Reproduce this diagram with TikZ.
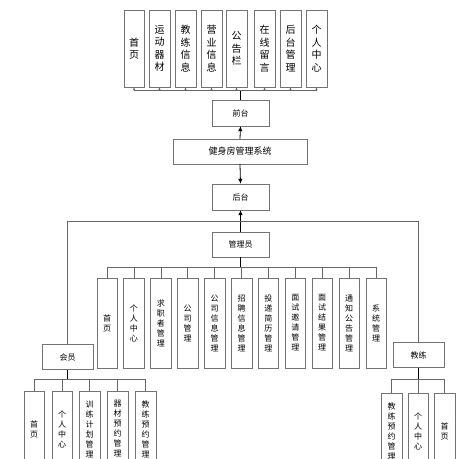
\documentclass[tikz,border=0pt]{standalone}
\usepackage{fontspec}
\setmainfont{Noto Sans CJK SC}
\usetikzlibrary{arrows.meta,positioning,calc}

\tikzset{
  box/.style={draw=black!55, rectangle, inner sep=0pt, align=center, minimum width=51pt, minimum height=25pt, font=\fontsize{8}{10}\selectfont},
  tallbox/.style={draw=black!55, rectangle, inner sep=0pt, align=center, minimum width=20.5pt, font=\fontsize{8}{10}\selectfont},
  topbox/.style={tallbox, minimum height=77pt, font=\fontsize{10}{12.5}\selectfont},
  link/.style={draw=black!60, line width=0.6pt},
  trunk/.style={draw=black, line width=0.8pt},
  bigarrow/.style={trunk, -{Latex[length=5pt,width=4.5pt]}},
  smallarrow/.style={link, -{Latex[length=3pt,width=2.5pt]}},
}

\begin{document}
\begin{tikzpicture}[x=1pt,y=-1pt]
    \useasboundingbox (0,0) rectangle (474,458);
    \clip (0,0) rectangle (474,458);

    % centre column
    \node[box, minimum width=57pt, minimum height=26pt] (front) at (240.5,113) {前台};
    \node[box, minimum width=134pt, font=\fontsize{9}{11}\selectfont] (system) at (240,151.5) {健身房管理系统};
    \node[box, minimum width=57pt, minimum height=26pt] (back) at (240.5,197) {后台};
    \node[box, minimum width=57pt] (admin) at (240.5,244.5) {管理员};
    \node[box] (member) at (67.5,357) {会员};
    \node[box] (coach) at (418.5,355) {教练};

    % front pages
    \foreach \x/\t [count=\i] in {134/{首\\页}, 159.5/{运\\动\\器\\材}, 185.5/{教\\练\\信\\息}, 211.5/{营\\业\\信\\息},
                                  236.5/{公\\告\\栏}, 264.5/{在\\线\\留\\言}, 290.5/{后\\台\\管\\理}, 316.5/{个\\人\\中\\心}}
        \node[topbox] (page\i) at (\x,48.5) {\t};

    % admin modules
    \foreach \t [count=\i] in {{首\\页}, {个\\人\\中\\心}, {求\\职\\者\\管\\理}, {公\\司\\管\\理}, {公\\司\\信\\息\\管\\理},
                               {招\\聘\\信\\息\\管\\理}, {投\\递\\简\\历\\管\\理}, {面\\试\\邀\\请\\管\\理},
                               {面\\试\\结\\果\\管\\理}, {通\\知\\公\\告\\管\\理}, {系\\统\\管\\理}}
        \node[tallbox, minimum height=90pt] (adm\i) at ({107+26.9*(\i-1)},323) {\t};

    % member modules
    \foreach \x/\t [count=\i] in {34/{首\\页}, 62/{个\\人\\中\\心}, 89.5/{训\\练\\计\\划\\管\\理},
                                  117.5/{器\\材\\预\\约\\管\\理}, 145.5/{教\\练\\预\\约\\管\\理}}
        \node[tallbox, minimum height=76pt] (mem\i) at (\x,429) {\t};

    % coach modules
    \foreach \x/\t [count=\i] in {391.5/{教\\练\\预\\约\\管\\理}, 418/{个\\人\\中\\心}, 444.5/{首\\页}}
        \node[tallbox, minimum height=76pt] (cch\i) at (\x,431) {\t};

    % connectors
    \draw[trunk] (front.north) -- ++(0,-10) coordinate (frontbus);
    \foreach \i in {1,...,8}
        \draw[smallarrow] (frontbus) -| (page\i.south);
    \draw[bigarrow] (system.north) -- (front.south);
    \draw[bigarrow] (system.south) -- (back.north);
    \draw[bigarrow] (admin.north) -- (back.south);
    \coordinate (join) at ($(admin.north)!0.5!(back.south)$);
    \draw[link] (member.north) |- (join);
    \draw[link] (coach.north) |- (join);

    \draw[trunk] (admin.south) -- ++(0,10) coordinate (adminbus);
    \foreach \i in {1,...,11}
        \draw[link] (adminbus) -| (adm\i.north);
    \draw[trunk] (member.south) -- ++(0,10) coordinate (memberbus);
    \foreach \i in {1,...,5}
        \draw[link] (memberbus) -| (mem\i.north);
    \draw[trunk] (coach.south) -- ++(0,12) coordinate (coachbus);
    \foreach \i in {1,...,3}
        \draw[link] (coachbus) -| (cch\i.north);
\end{tikzpicture}
\end{document}
